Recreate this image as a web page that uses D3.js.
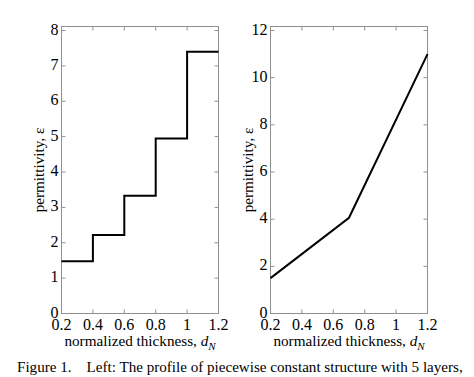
<!DOCTYPE html>
<html lang="en">
<head>
  <meta charset="UTF-8">
  <title>Permittivity profiles</title>
  <style type="text/css">
    body { margin: 0px; background: #fff; }
    text { font-family: "Liberation Serif", "DejaVu Serif", serif; fill: #000; }
    .tick-label { font-size: 16px; }
    .axis-label { font-size: 15.2px; }
    .caption { font-size: 15.1px; }
  </style>
  <script src="https://d3js.org/d3.v7.min.js"></script>
</head>
<body>
  <svg width="474" height="377"></svg>
  <script>
    // left: piecewise constant profile, 5 layers
    const stepEdges = [0.2, 0.4, 0.6, 0.8, 1.0, 1.2];
    const stepValues = [1.48, 2.22, 3.33, 4.95, 7.4];
    // right: continuous profile
    const lineX = [0.2, 0.7, 1.2];
    const lineY = [1.5, 4.06, 11];

    const xTicks = [0.2, 0.4, 0.6, 0.8, 1, 1.2];
    const leftYTicks = [0, 1, 2, 3, 4, 5, 6, 7, 8];
    const rightYTicks = [0, 2, 4, 6, 8, 10, 12];

    const svg = d3.select('svg');
    const boxTop = 26.5, yTopTick = 30.5, plotBottom = 313.5;

    function panel(left, right, yMax, yTicks) {
      const x = d3.scaleLinear().domain([0.2, 1.2]).range([left, right]);
      const y = d3.scaleLinear().domain([0, yMax]).range([plotBottom, yTopTick]);
      const g = svg.append('g');
      const tickColor = '#8f8f8f';

      // box
      g.append('rect')
        .attr('x', left).attr('y', boxTop)
        .attr('width', right - left).attr('height', plotBottom - boxTop)
        .attr('fill', 'none').attr('stroke', tickColor).attr('stroke-width', 1);

      // inward ticks on all sides
      const tl = 4;
      xTicks.forEach(t => {
        g.append('line').attr('x1', x(t)).attr('x2', x(t)).attr('y1', plotBottom).attr('y2', plotBottom - tl)
          .attr('stroke', tickColor);
        g.append('line').attr('x1', x(t)).attr('x2', x(t)).attr('y1', boxTop).attr('y2', boxTop + tl)
          .attr('stroke', tickColor);
        g.append('text').attr('class', 'tick-label')
          .attr('x', x(t)).attr('y', plotBottom + 16)
          .attr('text-anchor', 'middle')
          .text(t);
      });
      yTicks.forEach(t => {
        g.append('line').attr('x1', left).attr('x2', left + tl).attr('y1', y(t)).attr('y2', y(t))
          .attr('stroke', tickColor);
        g.append('line').attr('x1', right).attr('x2', right - tl).attr('y1', y(t)).attr('y2', y(t))
          .attr('stroke', tickColor);
        g.append('text').attr('class', 'tick-label')
          .attr('x', left - 3).attr('y', y(t) + 4)
          .attr('text-anchor', 'end')
          .text(t);
      });

      // x label
      const xl = g.append('text').attr('class', 'axis-label')
        .attr('x', (left + right) / 2).attr('y', plotBottom + 32)
        .attr('text-anchor', 'middle');
      xl.append('tspan').text('normalized thickness, ');
      xl.append('tspan').attr('font-style', 'italic').text('d');
      xl.append('tspan').attr('font-style', 'italic').attr('font-size', '11px').attr('dy', 4).text('N');

      // y label
      g.append('text').attr('class', 'axis-label')
        .attr('transform', `translate(${left - 18},${(boxTop + plotBottom) / 2}) rotate(-90)`)
        .attr('text-anchor', 'middle')
        .text('permittivity, \u03b5');

      return { x, y, g };
    }

    const L = panel(61.5, 218.5, 8, leftYTicks);
    const R = panel(270.5, 427.5, 12, rightYTicks);

    // step path
    const stepPts = [];
    stepValues.forEach((v, i) => {
      stepPts.push([stepEdges[i], v]);
      stepPts.push([stepEdges[i + 1], v]);
    });
    L.g.append('path')
      .datum(stepPts)
      .attr('d', d3.line().x(d => L.x(d[0])).y(d => L.y(d[1])))
      .attr('fill', 'none').attr('stroke', '#000').attr('stroke-width', 2);

    R.g.append('path')
      .datum(lineX.map((v, i) => [v, lineY[i]]))
      .attr('d', d3.line().x(d => R.x(d[0])).y(d => R.y(d[1])))
      .attr('fill', 'none').attr('stroke', '#000').attr('stroke-width', 2);

    // caption
    svg.append('text').attr('class', 'caption')
      .attr('x', 17).attr('y', 372)
      .attr('xml:space', 'preserve')
      .style('white-space', 'pre')
      .text('Figure 1.    Left: The profile of piecewise constant structure with 5 layers,');
  </script>
</body>
</html>
